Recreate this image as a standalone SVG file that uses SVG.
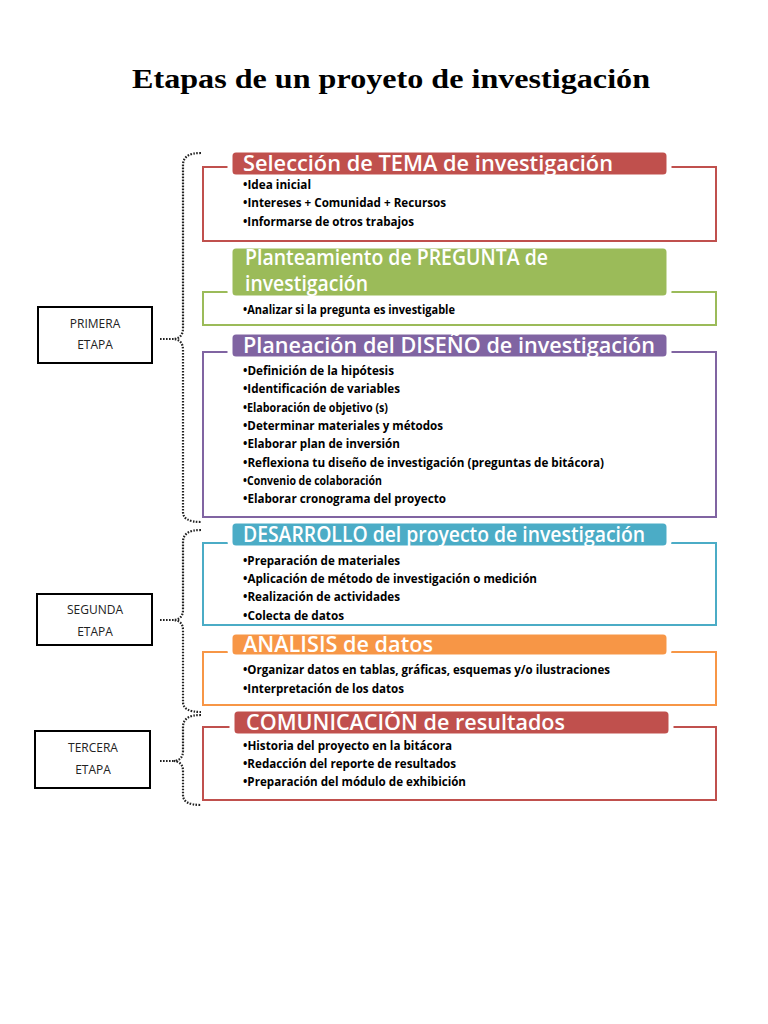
<svg xmlns="http://www.w3.org/2000/svg" width="768" height="1024" viewBox="0 0 768 1024">
<style>
.title{font-family:"Liberation Serif","DejaVu Serif",serif;font-weight:bold;font-size:28px;fill:#000}
.body{fill:#fff;stroke-width:2}
.hdr{stroke:#fff;stroke-width:5}
.ht{font-family:"Open Sans",Lato,sans-serif;font-weight:600;font-size:21px;fill:#fff}
.it{font-family:"Open Sans",Lato,sans-serif;font-weight:bold;font-size:11.5px;fill:#000}
.stage{fill:#fff;stroke:#000;stroke-width:2}
.st{font-family:"Open Sans",Lato,sans-serif;font-size:12px;fill:#222;text-anchor:middle}
.brace{fill:none;stroke:#222;stroke-width:2.2;stroke-dasharray:1.6 1.4}
</style>
<rect width="768" height="1024" fill="#fff"/>
<text class="title" x="132" y="88" textLength="518" lengthAdjust="spacingAndGlyphs">Etapas de un proyeto de investigación</text>

<g id="connectors">
<path class="brace" d="M201,153 Q183,153 183,165 L183,328 Q183,338 174,339 Q183,340 183,350 L183,512 Q183,522 201,522"/>
<path class="brace" d="M160,339 L174,339"/>
<path class="brace" d="M201,530 Q183,530 183,542 L183,610 Q183,619 174,620 Q183,621 183,630 L183,702 Q183,712 201,712"/>
<path class="brace" d="M160,620 L174,620"/>
<path class="brace" d="M201,715 Q183,715 183,727 L183,751 Q183,760 174,761 Q183,762 183,771 L183,795 Q183,805 201,805"/>
<path class="brace" d="M160,761 L174,761"/>
</g>

<g id="stage1"><rect class="stage" x="38" y="307" width="114" height="56"/><text class="st" x="95" y="328">PRIMERA</text><text class="st" x="95" y="349">ETAPA</text></g>
<g id="stage2"><rect class="stage" x="37" y="594" width="115" height="51"/><text class="st" x="95" y="614">SEGUNDA</text><text class="st" x="95" y="636">ETAPA</text></g>
<g id="stage3"><rect class="stage" x="35" y="731" width="115" height="57"/><text class="st" x="93" y="752">TERCERA</text><text class="st" x="93" y="774">ETAPA</text></g>

<g id="tema">
<rect class="body" x="203" y="167" width="513" height="74" stroke="#C0504D"/>
<rect class="hdr" x="230" y="150" width="439" height="27" rx="6" fill="#C0504D"/>
<text class="ht" x="243" y="171" textLength="370" lengthAdjust="spacingAndGlyphs">Selección de TEMA de investigación</text>
<text class="it" x="243" y="189" textLength="68" lengthAdjust="spacingAndGlyphs">•Idea inicial</text>
<text class="it" x="243" y="207" textLength="203" lengthAdjust="spacingAndGlyphs">•Intereses + Comunidad + Recursos</text>
<text class="it" x="243" y="226" textLength="171" lengthAdjust="spacingAndGlyphs">•Informarse de otros trabajos</text>
</g>

<g id="pregunta">
<rect class="body" x="203" y="292" width="513" height="33" stroke="#9BBB59"/>
<rect class="hdr" x="230" y="246" width="439" height="52" rx="6" fill="#9BBB59"/>
<text class="ht" x="245" y="265" font-size="18.5" textLength="303" lengthAdjust="spacingAndGlyphs">Planteamiento de PREGUNTA de</text>
<text class="ht" x="245" y="291" font-size="18.5" textLength="123" lengthAdjust="spacingAndGlyphs">investigación</text>
<text class="it" x="243" y="314" textLength="212" lengthAdjust="spacingAndGlyphs">•Analizar si la pregunta es investigable</text>
</g>

<g id="diseno">
<rect class="body" x="203" y="352" width="513" height="165" stroke="#8064A2"/>
<rect class="hdr" x="230" y="332" width="439" height="27" rx="6" fill="#8064A2"/>
<text class="ht" x="243" y="353" textLength="412" lengthAdjust="spacingAndGlyphs">Planeación del DISEÑO de investigación</text>
<text class="it" x="243" y="375" textLength="151" lengthAdjust="spacingAndGlyphs">•Definición de la hipótesis</text>
<text class="it" x="243" y="393" textLength="157" lengthAdjust="spacingAndGlyphs">•Identificación de variables</text>
<text class="it" x="243" y="412" textLength="145" lengthAdjust="spacingAndGlyphs">•Elaboración de objetivo (s)</text>
<text class="it" x="243" y="430" textLength="200" lengthAdjust="spacingAndGlyphs">•Determinar materiales y métodos</text>
<text class="it" x="243" y="448" textLength="157" lengthAdjust="spacingAndGlyphs">•Elaborar plan de inversión</text>
<text class="it" x="243" y="467" textLength="361" lengthAdjust="spacingAndGlyphs">•Reflexiona tu diseño de investigación  (preguntas de bitácora)</text>
<text class="it" x="243" y="485" textLength="139" lengthAdjust="spacingAndGlyphs">•Convenio de colaboración</text>
<text class="it" x="243" y="503" textLength="203" lengthAdjust="spacingAndGlyphs">•Elaborar cronograma del proyecto</text>
</g>

<g id="desarrollo">
<rect class="body" x="203" y="543" width="513" height="82" stroke="#4BACC6"/>
<rect class="hdr" x="230" y="521" width="439" height="27" rx="6" fill="#4BACC6"/>
<text class="ht" x="243" y="542" textLength="402" lengthAdjust="spacingAndGlyphs">DESARROLLO del proyecto de investigación</text>
<text class="it" x="243" y="565" textLength="157" lengthAdjust="spacingAndGlyphs">•Preparación de materiales</text>
<text class="it" x="243" y="583" textLength="294" lengthAdjust="spacingAndGlyphs">•Aplicación de método de investigación o medición</text>
<text class="it" x="243" y="601" textLength="157" lengthAdjust="spacingAndGlyphs">•Realización de actividades</text>
<text class="it" x="243" y="620" textLength="101" lengthAdjust="spacingAndGlyphs">•Colecta de datos</text>
</g>

<g id="analisis">
<rect class="body" x="203" y="652" width="513" height="53" stroke="#F79646"/>
<rect class="hdr" x="230" y="632" width="439" height="25" rx="6" fill="#F79646"/>
<text class="ht" x="243" y="652" textLength="190" lengthAdjust="spacingAndGlyphs">ANÁLISIS de datos</text>
<text class="it" x="243" y="674" textLength="367" lengthAdjust="spacingAndGlyphs">•Organizar datos en tablas, gráficas, esquemas y/o ilustraciones</text>
<text class="it" x="243" y="693" textLength="161" lengthAdjust="spacingAndGlyphs">•Interpretación de los datos</text>
</g>

<g id="comunicacion">
<rect class="body" x="203" y="727" width="513" height="73" stroke="#C0504D"/>
<rect class="hdr" x="232" y="709" width="439" height="27" rx="6" fill="#C0504D"/>
<text class="ht" x="246" y="730" textLength="319" lengthAdjust="spacingAndGlyphs">COMUNICACIÓN de resultados</text>
<text class="it" x="243" y="750" textLength="209" lengthAdjust="spacingAndGlyphs">•Historia del proyecto en la bitácora</text>
<text class="it" x="243" y="768" textLength="213" lengthAdjust="spacingAndGlyphs">•Redacción del reporte de resultados</text>
<text class="it" x="243" y="786" textLength="223" lengthAdjust="spacingAndGlyphs">•Preparación del módulo de exhibición</text>
</g>
</svg>
